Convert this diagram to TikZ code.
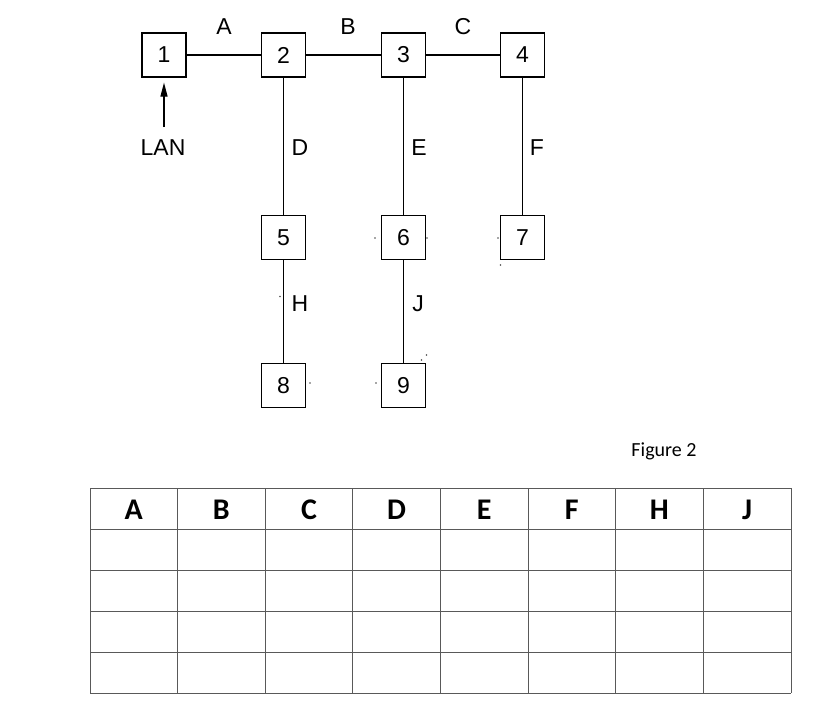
\documentclass[tikz,border=0pt]{standalone}
\usepackage{fontspec}
\setmainfont{Liberation Sans}
\newfontfamily\calib{Carlito}
\usetikzlibrary{arrows.meta}
\begin{document}
\begin{tikzpicture}[x=1pt,y=-1pt,
  routerbox/.style={draw,line width=1.2pt,minimum size=44pt,inner sep=0pt,font=\fontsize{23}{26}\selectfont},
  linklabel/.style={font=\fontsize{23}{26}\selectfont,inner sep=0pt},
  link/.style={line width=1.2pt},
  speck/.style={fill=black!70,draw=none},
  gridline/.style={draw=black!65,line width=1pt},
  headcell/.style={font=\calib\bfseries\fontsize{30}{32}\selectfont,inner sep=0pt}]
\useasboundingbox (0,0) rectangle (824,704);
% routers
\node[routerbox] (n1) at (164,55) {1};
\node[routerbox] (n2) at (283.5,55) {2};
\node[routerbox] (n3) at (403.5,55) {3};
\node[routerbox] (n4) at (522.5,55) {4};
\node[routerbox] (n5) at (283.5,237.5) {5};
\node[routerbox] (n6) at (403.5,237.5) {6};
\node[routerbox] (n7) at (522.5,237.5) {7};
\node[routerbox] (n8) at (283.5,385.5) {8};
\node[routerbox] (n9) at (403.5,385.5) {9};
% links
\draw[link] (n1) -- (n2);
\draw[link] (n2) -- (n3);
\draw[link] (n3) -- (n4);
\draw[link] (n2) -- (n5);
\draw[link] (n3) -- (n6);
\draw[link] (n4) -- (n7);
\draw[link] (n5) -- (n8);
\draw[link] (n6) -- (n9);
% LAN arrow
\node[linklabel] (lan) at (163,148) {LAN};
\coordinate (lanfoot) at (164,127);
\draw[link,-{Triangle[length=14pt,width=7pt]},shorten >=5pt] (lanfoot) -- (n1.south);
% link labels
\node[linklabel] (la) at (224,27) {A};
\node[linklabel] (lb) at (348,27) {B};
\node[linklabel] (lc) at (463,27) {C};
\node[linklabel] (ld) at (300,148) {D};
\node[linklabel] (le) at (419,148) {E};
\node[linklabel] (lf) at (537,148) {F};
\node[linklabel] (lh) at (300,304) {H};
\node[linklabel] (lj) at (418,304) {J};
% specks
\foreach \p in {(375,238),(427,238),(498,238),(500.5,265),(280,296.5),(310,383),(376,383),(421.5,360),(426.5,355)}
  \fill[speck] \p circle (0.9pt);
% figure caption
\node[font=\calib\fontsize{20}{22}\selectfont,inner sep=0pt] (cap) at (664,451) {Figure 2};
% table
\foreach \y in {488,529,570,611,652,693}
  \draw[gridline] (90,\y) -- (791,\y);
\foreach \x in {90,177.6,265.2,352.9,440.5,528.1,615.8,703.4,791}
  \draw[gridline] (\x,488) -- (\x,693);
\foreach \l [count=\i from 0] in {A,B,C,D,E,F,H,J}
  \node[headcell] (h\l) at (133.8+87.6*\i,509.5) {\l};
\end{tikzpicture}
\end{document}
